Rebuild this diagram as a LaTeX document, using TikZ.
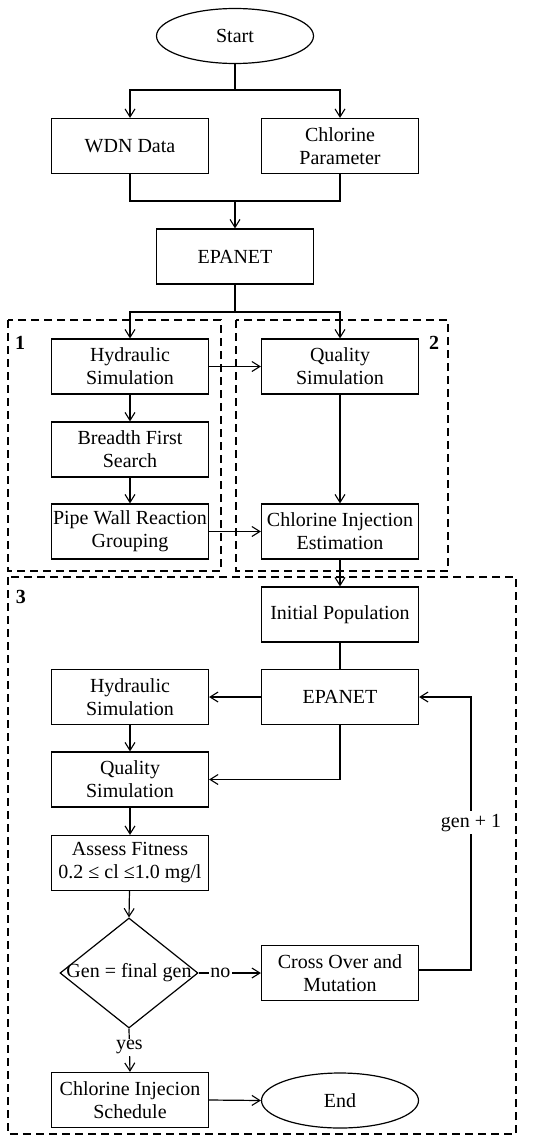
\documentclass[tikz,border=0pt]{standalone}
\usepackage{fontspec}
\setmainfont{Liberation Serif}
\usetikzlibrary{shapes.geometric,arrows.meta}
\begin{document}
\begin{tikzpicture}[x=1pt,y=-1pt,
  line width=1.2pt,
  every node/.style={font=\fontsize{20}{23}\selectfont, align=center, inner sep=0pt},
  box/.style={draw, rectangle, minimum width=157pt, minimum height=55pt},
  term/.style={draw, ellipse, minimum width=157pt, minimum height=55pt},
  dec/.style={draw, diamond, minimum width=138pt, minimum height=110pt},
  arr/.style={-{Straight Barb[length=8pt,width=10pt,line width=1.1pt]}},
  group/.style={draw, line width=2pt, dash pattern=on 8pt off 5pt},
  grouplabel/.style={font=\fontsize{20}{23}\selectfont\bfseries},
  lab/.style={fill=white, inner sep=1.5pt}
]
\useasboundingbox (0,0) rectangle (550,1143);
% groups
\draw[group] (8,320) rectangle (221,571);
\draw[group] (236,320) rectangle (448,571);
\draw[group] (8,577) rectangle (516,1134);
\node[grouplabel] (g1) at (20,343) {1};
\node[grouplabel] (g2) at (434,343) {2};
\node[grouplabel] (g3) at (21,597) {3};
% nodes
\node[term] (start) at (235,36) {Start};
\node[box] (wdn) at (130,146) {WDN Data};
\node[box] (chl) at (340,146) {Chlorine\\Parameter};
\node[box] (ep1) at (235,256.5) {EPANET};
\node[box] (hyd1) at (130,366.5) {Hydraulic\\Simulation};
\node[box] (qual1) at (340,366.5) {Quality\\Simulation};
\node[box] (bfs) at (130,449.5) {Breadth First\\Search};
\node[box] (pipe) at (130,531.5) {Pipe Wall Reaction\\Grouping};
\node[box] (cie) at (340,531.5) {Chlorine Injection\\Estimation};
\node[box] (init) at (340,614.5) {Initial Population};
\node[box] (ep2) at (340,697) {EPANET};
\node[box] (hyd2) at (130,697) {Hydraulic\\Simulation};
\node[box] (qual2) at (130,779.5) {Quality\\Simulation};
\node[box] (assess) at (130,863) {Assess Fitness\\0.2 ≤ cl ≤1.0 mg/l};
\node[dec] (gen) at (129,973) {\makebox[0pt]{Gen = final gen}};
\node[box] (cross) at (340,973) {Cross Over and\\Mutation};
\node[box] (sched) at (130,1100) {Chlorine Injecion\\Schedule};
\node[term] (end) at (340,1100.5) {End};
% junctions
\coordinate (j1) at (235,90);
\coordinate (j2) at (235,201);
\coordinate (j3) at (235,312);
\coordinate (fb0) at (471,970);
\coordinate (fb) at (471,697);
% connectors
\draw (start) -- (j1);
\draw[arr] (j1) -| (wdn.north);
\draw[arr] (j1) -| (chl.north);
\draw (wdn.south) |- (j2);
\draw (chl.south) |- (j2);
\draw[arr] (j2) -- (ep1.north);
\draw (ep1.south) -- (j3);
\draw[arr] (j3) -| (hyd1.north);
\draw[arr] (j3) -| (qual1.north);
\draw[arr] (hyd1.east) -- (qual1.west);
\draw[arr] (hyd1) -- (bfs);
\draw[arr] (bfs) -- (pipe);
\draw[arr] (pipe.east) -- (cie.west);
\draw[arr] (qual1) -- (cie);
\draw[arr] (cie) -- (init);
\draw (init) -- (ep2);
\draw[arr] (ep2.west) -- (hyd2.east);
\draw[arr] (hyd2) -- (qual2);
\draw[arr] (ep2.south) |- (qual2.east);
\draw[arr] (qual2) -- (assess);
\draw[arr] (assess) -- (gen.north);
\draw[arr] (gen.east) -- node[lab, pos=0.35] (no) {no} (cross.west);
\draw[arr] (gen.south) -- node[lab, pos=0.43] (yes) {yes} (sched.north);
\draw[arr] (sched.east) -- (end.west);
\draw[arr] (cross.east |- fb0) -- (fb0) -- node[lab, pos=0.54, inner sep=3pt] (gp) {gen + 1} (fb) -- (ep2.east);
\end{tikzpicture}
\end{document}
